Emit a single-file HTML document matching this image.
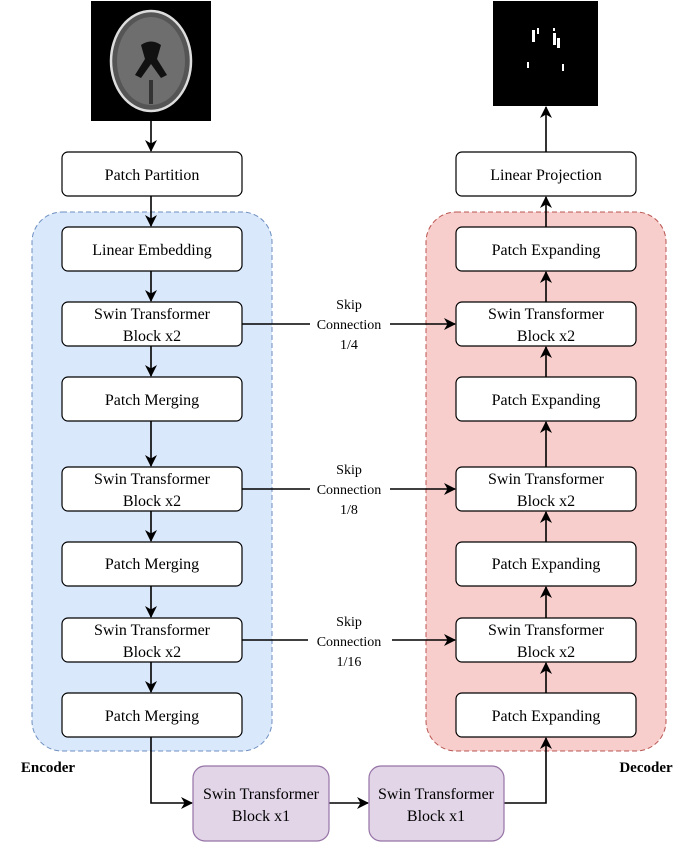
<!DOCTYPE html>
<html><head><meta charset="utf-8"><style>
html,body{margin:0;padding:0;background:#fff;}
svg{display:block;}
</style></head><body>
<svg width="694" height="846" viewBox="0 0 694 846" xmlns="http://www.w3.org/2000/svg" font-family="'Liberation Serif', 'DejaVu Serif', serif" font-size="16">
<defs>
<marker id="a" markerWidth="14" markerHeight="14" refX="11" refY="6" orient="auto" markerUnits="userSpaceOnUse">
<path d="M0,0 L12,6 L0,12 L3.5,6 z" fill="#000"/></marker>
</defs>
<rect x="32" y="212" width="240" height="539" rx="30" fill="#dae8fc" stroke="#6c8ebf" stroke-dasharray="5,3"/>
<rect x="426" y="212" width="240" height="539" rx="30" fill="#f8cecc" stroke="#b85450" stroke-dasharray="5,3"/>
<rect x="91" y="1" width="120" height="120" fill="#000"/>
<ellipse cx="151" cy="61" rx="40" ry="50" fill="#555" stroke="#ddd" stroke-width="2.5"/>
<ellipse cx="151" cy="61" rx="34" ry="44" fill="#6e6e6e"/>
<path d="M141,45 q10,-7 20,0 l-4,14 l10,16 l-6,3 l-10,-14 l-10,14 l-6,-3 l10,-16z" fill="#111"/>
<rect x="149" y="80" width="4" height="24" fill="#333"/>
<rect x="493" y="1" width="105" height="105" fill="#000"/>
<g fill="#fff"><rect x="532" y="30" width="3" height="12"/><rect x="537" y="28" width="2" height="6"/><rect x="553" y="33" width="3" height="12"/><rect x="557" y="38" width="3" height="10"/><rect x="527" y="62" width="2" height="6"/><rect x="562" y="64" width="2" height="7"/><rect x="553" y="28" width="2" height="3"/></g>
<g stroke="#000" stroke-width="1.6" fill="none">
<line x1="151" y1="121" x2="151" y2="151" marker-end="url(#a)"/>
<line x1="151" y1="196" x2="151" y2="226" marker-end="url(#a)"/>
<line x1="151" y1="271" x2="151" y2="301" marker-end="url(#a)"/>
<line x1="151" y1="346" x2="151" y2="376" marker-end="url(#a)"/>
<line x1="151" y1="421" x2="151" y2="466" marker-end="url(#a)"/>
<line x1="151" y1="511" x2="151" y2="541" marker-end="url(#a)"/>
<line x1="151" y1="586" x2="151" y2="617" marker-end="url(#a)"/>
<line x1="151" y1="662" x2="151" y2="692" marker-end="url(#a)"/>
<polyline points="151,737 151,803 192,803" marker-end="url(#a)"/>
<line x1="329" y1="803" x2="368" y2="803" marker-end="url(#a)"/>
<polyline points="504,803 546,803 546,738" marker-end="url(#a)"/>
<line x1="546" y1="693" x2="546" y2="663" marker-end="url(#a)"/>
<line x1="546" y1="618" x2="546" y2="587" marker-end="url(#a)"/>
<line x1="546" y1="542" x2="546" y2="512" marker-end="url(#a)"/>
<line x1="546" y1="467" x2="546" y2="422" marker-end="url(#a)"/>
<line x1="546" y1="377" x2="546" y2="347" marker-end="url(#a)"/>
<line x1="546" y1="302" x2="546" y2="272" marker-end="url(#a)"/>
<line x1="546" y1="227" x2="546" y2="197" marker-end="url(#a)"/>
<line x1="546" y1="152" x2="546" y2="107" marker-end="url(#a)"/>
<line x1="242" y1="324" x2="455" y2="324" marker-end="url(#a)"/>
<line x1="242" y1="489" x2="455" y2="489" marker-end="url(#a)"/>
<line x1="242" y1="640" x2="455" y2="640" marker-end="url(#a)"/>
</g>
<g text-anchor="middle" font-size="14">
<rect x="310" y="295" width="80" height="56" fill="#fff"/>
<text x="349" y="309">Skip</text><text x="349" y="329">Connection</text><text x="349" y="349">1/4</text>
<rect x="310" y="460" width="80" height="56" fill="#fff"/>
<text x="349" y="474">Skip</text><text x="349" y="494">Connection</text><text x="349" y="514">1/8</text>
<rect x="308" y="611" width="84" height="56" fill="#fff"/>
<text x="349" y="626">Skip</text><text x="349" y="646">Connection</text><text x="349" y="666">1/16</text>
</g>
<g fill="#fff" stroke="#000" stroke-width="1.2">
<rect x="62" y="152" width="180" height="44" rx="6"/>
<rect x="62" y="227" width="180" height="44" rx="6"/>
<rect x="62" y="302" width="180" height="44" rx="6"/>
<rect x="62" y="377" width="180" height="44" rx="6"/>
<rect x="62" y="467" width="180" height="44" rx="6"/>
<rect x="62" y="542" width="180" height="44" rx="6"/>
<rect x="62" y="618" width="180" height="44" rx="6"/>
<rect x="62" y="693" width="180" height="44" rx="6"/>
<rect x="456" y="152" width="180" height="44" rx="6"/>
<rect x="456" y="227" width="180" height="44" rx="6"/>
<rect x="456" y="302" width="180" height="44" rx="6"/>
<rect x="456" y="377" width="180" height="44" rx="6"/>
<rect x="456" y="467" width="180" height="44" rx="6"/>
<rect x="456" y="542" width="180" height="44" rx="6"/>
<rect x="456" y="618" width="180" height="44" rx="6"/>
<rect x="456" y="693" width="180" height="44" rx="6"/>
</g>
<rect x="193" y="766" width="136" height="75" rx="12" fill="#e1d5e7" stroke="#9673a6" stroke-width="1.2"/>
<rect x="369" y="766" width="135" height="75" rx="12" fill="#e1d5e7" stroke="#9673a6" stroke-width="1.2"/>
<g text-anchor="middle" fill="#000">
<text x="152" y="180">Patch Partition</text>
<text x="152" y="255">Linear Embedding</text>
<text x="152" y="319">Swin Transformer</text><text x="152" y="341">Block x2</text>
<text x="152" y="405">Patch Merging</text>
<text x="152" y="484">Swin Transformer</text><text x="152" y="506">Block x2</text>
<text x="152" y="569">Patch Merging</text>
<text x="152" y="635">Swin Transformer</text><text x="152" y="657">Block x2</text>
<text x="152" y="721">Patch Merging</text>
<text x="546" y="180">Linear Projection</text>
<text x="546" y="255">Patch Expanding</text>
<text x="546" y="319">Swin Transformer</text><text x="546" y="341">Block x2</text>
<text x="546" y="405">Patch Expanding</text>
<text x="546" y="484">Swin Transformer</text><text x="546" y="506">Block x2</text>
<text x="546" y="569">Patch Expanding</text>
<text x="546" y="635">Swin Transformer</text><text x="546" y="657">Block x2</text>
<text x="546" y="721">Patch Expanding</text>
<text x="261" y="799">Swin Transformer</text><text x="261" y="821">Block x1</text>
<text x="436" y="799">Swin Transformer</text><text x="436" y="821">Block x1</text>
<text x="48" y="772" font-weight="bold" font-size="15">Encoder</text>
<text x="646" y="772" font-weight="bold" font-size="15">Decoder</text>
</g>
</svg>
</body></html>
